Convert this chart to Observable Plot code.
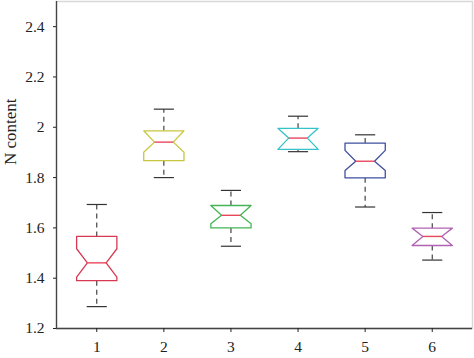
<!DOCTYPE html>
<html>
<head>
<meta charset="utf-8">
<script src="https://cdn.jsdelivr.net/npm/d3@7"></script>
<script src="https://cdn.jsdelivr.net/npm/@observablehq/plot@0.6"></script>
<style>
  html, body { margin: 0; padding: 0; background: #fff; }
</style>
</head>
<body>
<div id="chart"></div>
<script>
const groups = [1, 2, 3, 4, 5, 6];
const whiskerHi = [1.693, 2.072, 1.749, 2.044, 1.970, 1.661];
const q3 = [1.566, 1.986, 1.689, 1.996, 1.937, 1.599];
const notchHi = [1.517, 1.986, 1.689, 1.996, 1.908, 1.599];
const median = [1.461, 1.941, 1.650, 1.957, 1.865, 1.566];
const notchLo = [1.404, 1.901, 1.616, 1.912, 1.828, 1.530];
const q1 = [1.390, 1.867, 1.600, 1.912, 1.799, 1.530];
const whiskerLo = [1.287, 1.800, 1.527, 1.903, 1.683, 1.472];
const boxColors = ["#d63a52", "#c9c642", "#43b556", "#34c3c9", "#3f4f9e", "#b162b4"];
const yTicks = [1.2, 1.4, 1.6, 1.8, 2.0, 2.2, 2.4];
const yTickLabels = ["1.2", "1.4", "1.6", "1.8", "2", "2.2", "2.4"];
const xTickLabels = ["1", "2", "3", "4", "5", "6"];
const yLabel = "N content";

const W = 0.30;   // box half width (x units)
const N = 0.14;   // notch inner half width
const C = 0.15;   // cap half width

const outline = [];
groups.forEach((g, i) => {
  const pts = [
    [g - W, q1[i]], [g - W, notchLo[i]], [g - N, median[i]], [g - W, notchHi[i]], [g - W, q3[i]],
    [g + W, q3[i]], [g + W, notchHi[i]], [g + N, median[i]], [g + W, notchLo[i]], [g + W, q1[i]],
    [g - W, q1[i]]
  ];
  pts.forEach(([x, y]) => outline.push({g, x, y, color: boxColors[i]}));
});
const rows = groups.map((g, i) => ({
  g, hi: whiskerHi[i], q3: q3[i], med: median[i], q1: q1[i], lo: whiskerLo[i]
}));

const chart = Plot.plot({
  width: 474,
  height: 358,
  marginLeft: 56,
  marginRight: 2,
  marginTop: 1,
  marginBottom: 30,
  style: {fontFamily: "Liberation Serif", fontSize: "16px", color: "#222", background: "#fff"},
  x: {type: "linear", domain: [0.4, 6.6]},
  y: {domain: [1.2, 2.5]},
  marks: [
    Plot.frame({stroke: "#d8d8d8", strokeWidth: 1.5}),
    Plot.link(rows, {x1: "g", x2: "g", y1: "q3", y2: "hi", stroke: "#333", strokeWidth: 1.1, strokeDasharray: "5,4"}),
    Plot.link(rows, {x1: "g", x2: "g", y1: "q1", y2: "lo", stroke: "#333", strokeWidth: 1.1, strokeDasharray: "5,4"}),
    Plot.link(rows, {x1: d => d.g - C, x2: d => d.g + C, y1: "hi", y2: "hi", stroke: "#333", strokeWidth: 1.2}),
    Plot.link(rows, {x1: d => d.g - C, x2: d => d.g + C, y1: "lo", y2: "lo", stroke: "#333", strokeWidth: 1.2}),
    Plot.line(outline, {x: "x", y: "y", z: "g", stroke: "color", strokeWidth: 1.3, fill: "#fff"}),
    Plot.link(rows, {x1: d => d.g - N, x2: d => d.g + N, y1: "med", y2: "med", stroke: "#e8475a", strokeWidth: 1.4}),
    Plot.ruleX([0.4], {stroke: "#444", strokeWidth: 1.3}),
    Plot.ruleY([1.2], {stroke: "#444", strokeWidth: 1.3}),
    Plot.axisY({
      ticks: yTicks, tickFormat: (d, i) => yTickLabels[yTicks.indexOf(d)] ?? d,
      tickSize: 3, tickPadding: 9, fontSize: 15.5, label: null
    }),
    Plot.text([yLabel], {
      text: d => d, frameAnchor: "left", rotate: -90, dx: -46,
      fontSize: 17, fill: "#222", fontFamily: "Liberation Serif"
    }),
    Plot.axisX({
      ticks: groups, tickFormat: d => xTickLabels[groups.indexOf(d)],
      tickSize: 4, tickPadding: 8, fontSize: 15.5, label: null
    })
  ]
});
document.getElementById("chart").appendChild(chart);
</script>
</body>
</html>
